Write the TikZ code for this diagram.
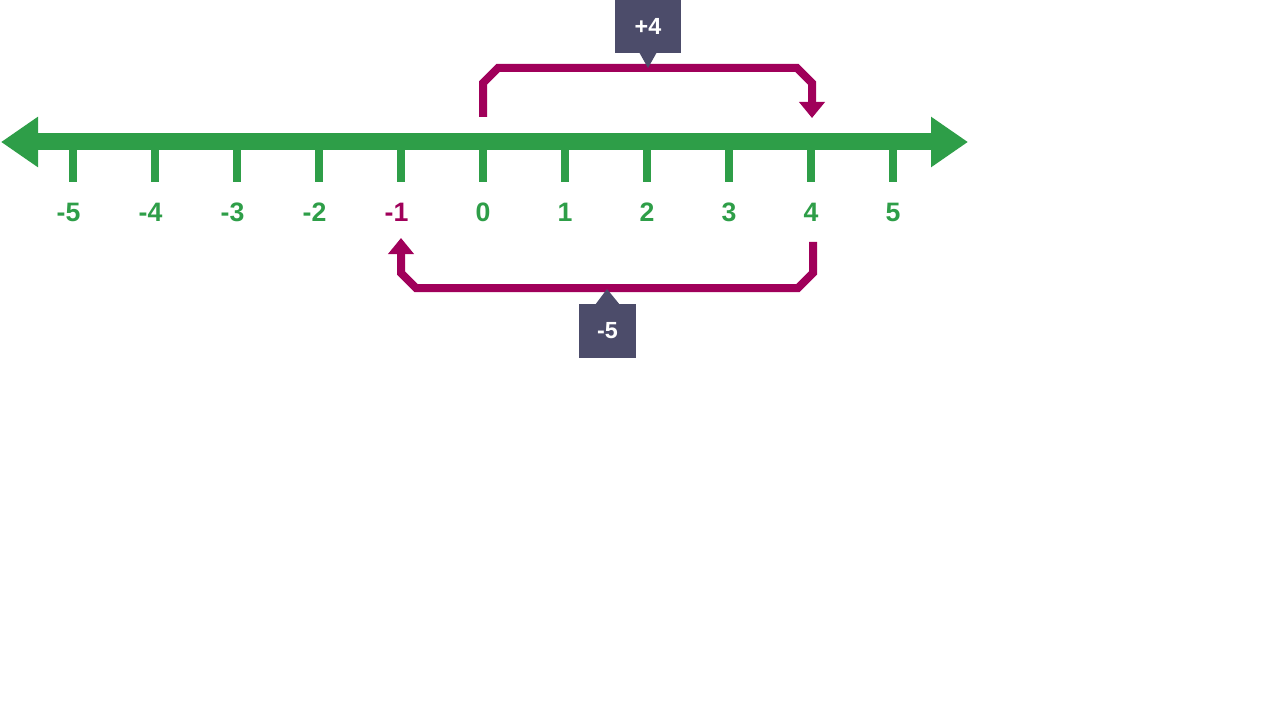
\documentclass[tikz,border=0pt]{standalone}
\usepackage{fontspec}
\setmainfont{Liberation Sans}
\usetikzlibrary{arrows.meta}
\definecolor{nlgreen}{RGB}{46,158,72}
\definecolor{nlpurple}{RGB}{160,0,90}
\definecolor{nlbox}{RGB}{76,76,106}
\tikzset{
  axisline/.style={draw=nlgreen, line width=12.75pt,
    {Triangle[length=27.75pt,width=36pt]}-{Triangle[length=27.75pt,width=36pt]}},
  tickmark/.style={draw=nlgreen, line width=5.5pt},
  ticklabel/.style={text=nlgreen, font=\fontsize{20pt}{22pt}\selectfont\bfseries, inner sep=0pt, anchor=center},
  jump/.style={draw=nlpurple, line width=6pt, miter limit=10},
  jumptip/.style={-{Triangle[length=12pt,width=18.75pt]}},
  callout/.style={fill=nlbox, text=white, font=\fontsize{17.5pt}{19pt}\selectfont\bfseries, inner sep=0pt, anchor=center},
}
\begin{document}
\begin{tikzpicture}[x=0.75pt,y=-0.75pt]
\useasboundingbox (0,0) rectangle (1280,720);
% axis
\coordinate (left) at (1,142);
\coordinate (right) at (968,142);
\draw[axisline] (left) -- (right);
% ticks and labels
\foreach \i in {-5,...,5}{
  \coordinate (tick\i) at ({483+82*\i},150);
  \coordinate (tickend\i) at ({483+82*\i},182);
  \draw[tickmark] (tick\i) -- (tickend\i);
}
\foreach \i in {0,1,2,3,4,5}{
  \node[ticklabel] (lab\i) at ({483+82*\i},212) {\i};
}
\foreach \i in {5,4,3,2}{
  \node[ticklabel] (lab-\i) at ({483-82*\i},212) {\llap{-}\i};
}
\node[ticklabel, text=nlpurple] (lab-1) at (401,212) {\llap{-}1};
% top jump +4
\coordinate (startA) at (483,117);
\coordinate (endA) at (812,118);
\draw[jump, jumptip] (startA) -- (483,83) -- (498,68) -- (797,68) -- (812,83) -- (endA);
\node[callout, minimum width=49.5pt, minimum height=40pt] (plusfour) at (648,26.5) {+4};
\fill[nlbox] (639,52) -- (648,68) -- (657,52) -- cycle;
% bottom jump -5
\coordinate (startB) at (813,242);
\coordinate (endB) at (401,238);
\draw[jump, jumptip] (startB) -- (813,273) -- (798,288) -- (416,288) -- (401,273) -- (endB);
\node[callout, minimum width=42.75pt, minimum height=40.5pt] (minusfive) at (607.5,331) {-5};
\fill[nlbox] (595,305) -- (607,289) -- (620,305) -- cycle;
\end{tikzpicture}
\end{document}
